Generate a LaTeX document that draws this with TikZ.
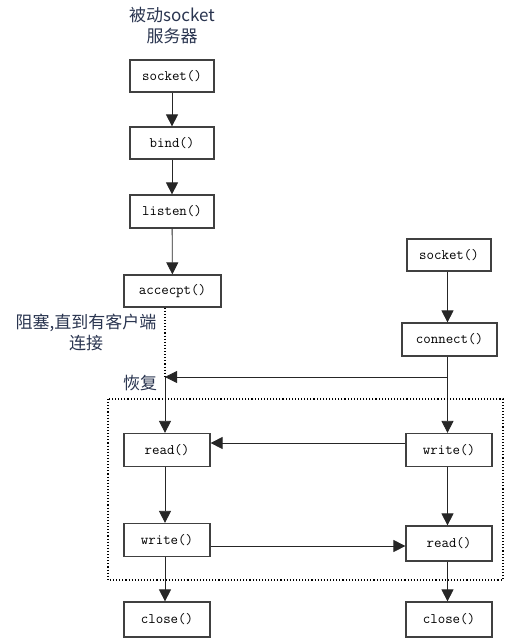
\documentclass[tikz,border=0pt]{standalone}
\usepackage{fontspec}
\newfontfamily\cjk{Noto Sans CJK SC}
\usetikzlibrary{arrows.meta}
\definecolor{lblc}{HTML}{2A3550}
\begin{document}
\begin{tikzpicture}[x=1pt,y=-1pt,
 fn/.style={draw=black!75, line width=1.2pt, inner sep=0pt, font=\ttfamily\fontsize{14.5}{16}\selectfont, minimum height=33pt, minimum width=86pt},
 arr/.style={-{Triangle[length=12pt,width=12pt]}, line width=0.8pt, draw=black!85},
 ln/.style={line width=0.8pt, draw=black!85},
 dot/.style={dotted, line width=1.1pt},
 lbl/.style={font=\cjk\fontsize{17}{21}\selectfont, text=lblc, align=center}]
\useasboundingbox (0,0) rectangle (505,638);
% labels
\node[lbl] (t1) at (172,26) {被动socket\\服务器};
\node[lbl] (t2) at (86,332) {阻塞,直到有客户端\\连接};
\node[lbl] (t3) at (140,383) {恢复};
% server
\node[fn, minimum width=84pt, minimum height=32pt] (s1) at (172,76) {socket()};
\node[fn, minimum width=84pt, minimum height=32pt] (b) at (172,143) {bind()};
\node[fn, minimum width=84pt, minimum height=33pt] (l) at (172,211.5) {listen()};
\node[fn, minimum width=97pt, minimum height=32pt] (a) at (172.5,291) {accecpt()};
% client
\node[fn, minimum width=84pt, minimum height=32pt] (s2) at (449,255) {socket()};
\node[fn, minimum width=95pt, minimum height=33pt] (c) at (449.5,339.5) {connect()};
% loop
\node[fn] (r1) at (167,450) {read()};
\node[fn] (w2) at (449,450) {write()};
\node[fn] (w1) at (167,540) {write()};
\node[fn, minimum height=35pt] (r2) at (449,543.5) {read()};
\node[fn, minimum height=35pt] (c1) at (167,619.5) {close()};
\node[fn, minimum height=35pt] (c2) at (449,619.5) {close()};
% junctions
\coordinate (j1) at (165,377);
\coordinate (j2) at (447.5,377);
% arrows
\draw[arr] (s1) -- (b);
\draw[arr] (b) -- (l);
\draw[arr] (l) -- (a);
\draw[dot] (a.south -| j1) -- (j1);
\draw[arr] (j1) -- (r1.north -| j1);
\draw[arr] (s2.south -| j2) -- (c.north -| j2);
\draw[ln] (c.south -| j2) -- (j2);
\draw[arr] (j2) -- (j1);
\draw[arr] (j2) -- (w2.north -| j2);
\draw[arr] (w2.west |- 0,443) -- (r1.east |- 0,443);
\draw[arr] (r1.south -| j1) -- (w1.north -| j1);
\draw[arr] (w1.east |- 0,546) -- (r2.west |- 0,546);
\draw[arr] (w2.south -| j2) -- (r2.north -| j2);
\draw[arr] (w1.south -| j1) -- (c1.north -| j1);
\draw[arr] (r2.south -| j2) -- (c2.north -| j2);
% dotted frame
\draw[dot] (108,399) rectangle (503,580);
\end{tikzpicture}
\end{document}
